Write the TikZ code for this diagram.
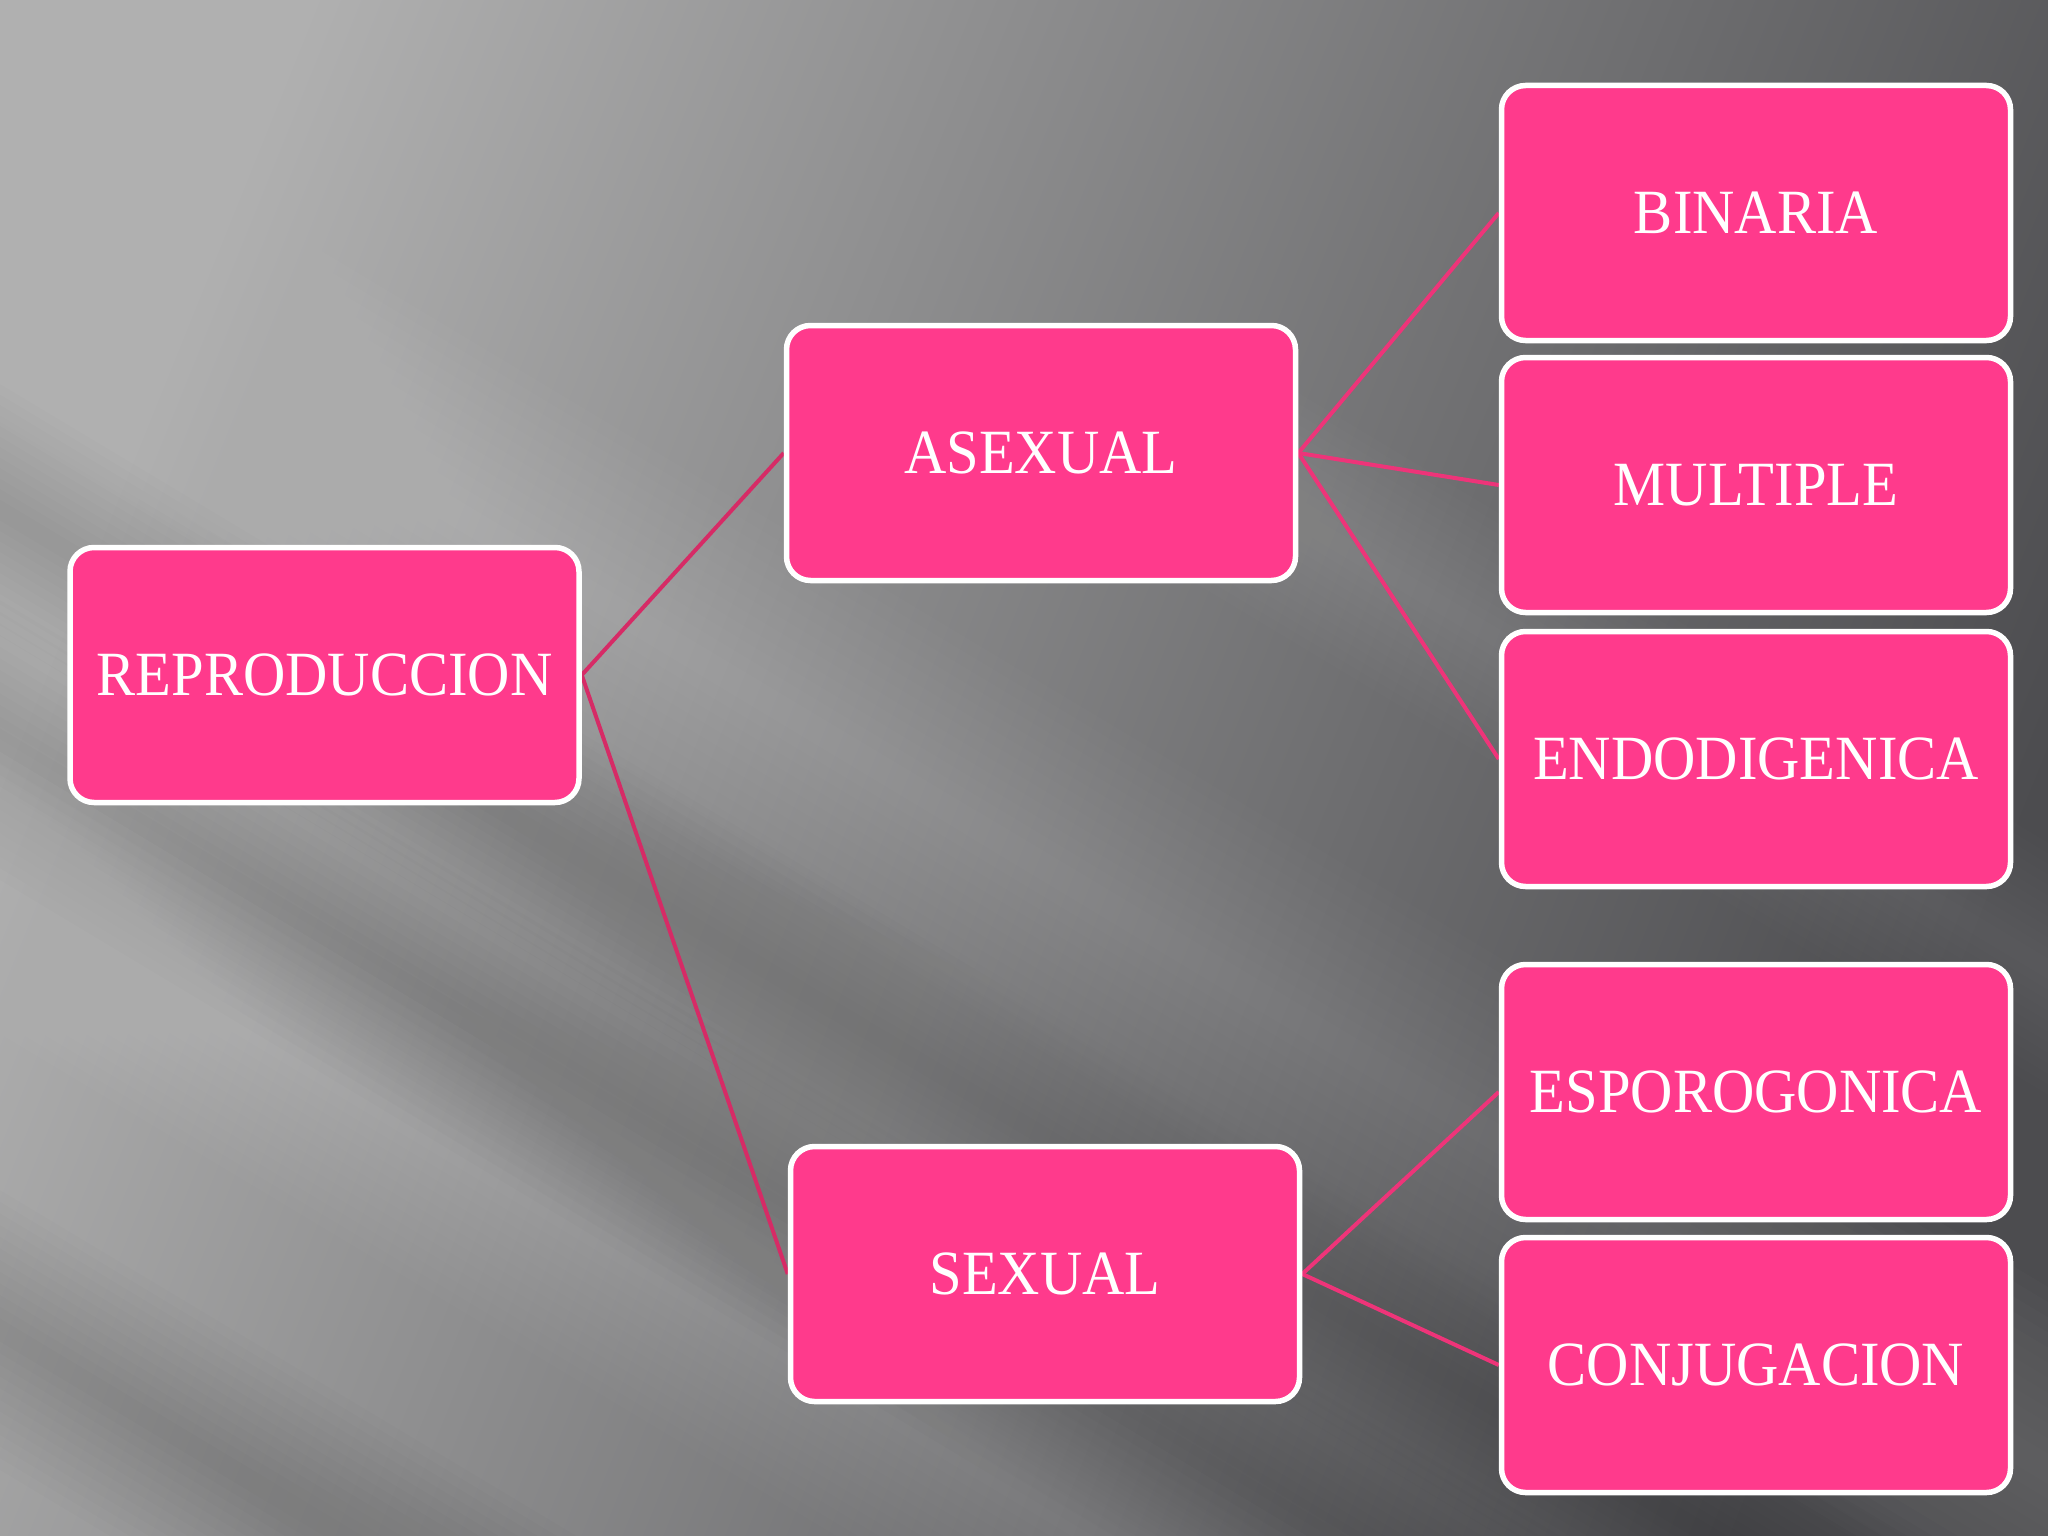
\documentclass[tikz,border=0pt]{standalone}
\usepackage{fontspec}
\setmainfont{Liberation Serif}[FakeStretch=0.93]
\definecolor{boxpink}{HTML}{FF3A8C}
\definecolor{linkA}{HTML}{D62B66}
\definecolor{linkB}{HTML}{EE3479}
\definecolor{bgA}{HTML}{B0B0B0}
\definecolor{bgB}{HTML}{4C4C4F}
\pgfdeclarelayer{bgl}
\pgfdeclarelayer{lines}
\pgfsetlayers{bgl,lines,main}
\tikzset{
  pinkbox/.style={draw=white, line width=5.5pt, fill=boxpink, rounded corners=24pt,
    minimum width=509pt, minimum height=255pt, text=white,
    font=\fontsize{63}{70}\selectfont, inner sep=0pt},
  linkmain/.style={draw=linkA, line width=4pt},
  linksub/.style={draw=linkB, line width=4pt},
}
\begin{document}
\begin{tikzpicture}[x=1pt,y=-1pt]
\useasboundingbox (0,0) rectangle (2048,1536);
\begin{pgfonlayer}{bgl}
  \shade[top color=bgA, bottom color=bgB, shading angle=68] (0,0) rectangle (2048,1536);
  \begin{scope}
    \clip (0,0) rectangle (2048,1536);
    \foreach \k in {1,...,12}{
      \draw[white, line width=26*\k pt, opacity=0.012] (-500,-60) -- (2700,1860);
      \draw[white, line width=22*\k pt, opacity=0.012] (-500,580) -- (2700,2500);
      \draw[white, line width=18*\k pt, opacity=0.008] (-500,-560) -- (2700,1360);
      \draw[black, line width=20*\k pt, opacity=0.008] (-500,440) -- (2700,2360);
      \draw[black, line width=20*\k pt, opacity=0.008] (-500,1030) -- (2700,2950);
      \draw[black, line width=18*\k pt, opacity=0.006] (-500,210) -- (2700,2130);
    }
  \end{scope}
\end{pgfonlayer}

\node[pinkbox] (repro) at (324.5,675) {REPRODUCCION};
\node[pinkbox] (asex)  at (1041,453)  {ASEXUAL};
\node[pinkbox] (sex)   at (1045,1274) {SEXUAL};
\node[pinkbox] (bin)   at (1756,213)  {BINARIA};
\node[pinkbox] (mult)  at (1756,485)  {MULTIPLE};
\node[pinkbox] (endo)  at (1756,759)  {ENDODIGENICA};
\node[pinkbox] (espo)  at (1756,1092) {ESPOROGONICA};
\node[pinkbox] (conj)  at (1756,1365) {CONJUGACION};

\begin{pgfonlayer}{lines}
  \draw[linkmain] (repro.east) -- (asex.west);
  \draw[linkmain] (repro.east) -- (sex.west);
  \draw[linksub] (asex.east) -- (bin.west);
  \draw[linksub] (asex.east) -- (mult.west);
  \draw[linksub] (asex.east) -- (endo.west);
  \draw[linksub] (sex.east) -- (espo.west);
  \draw[linksub] (sex.east) -- (conj.west);
\end{pgfonlayer}
\end{tikzpicture}
\end{document}
